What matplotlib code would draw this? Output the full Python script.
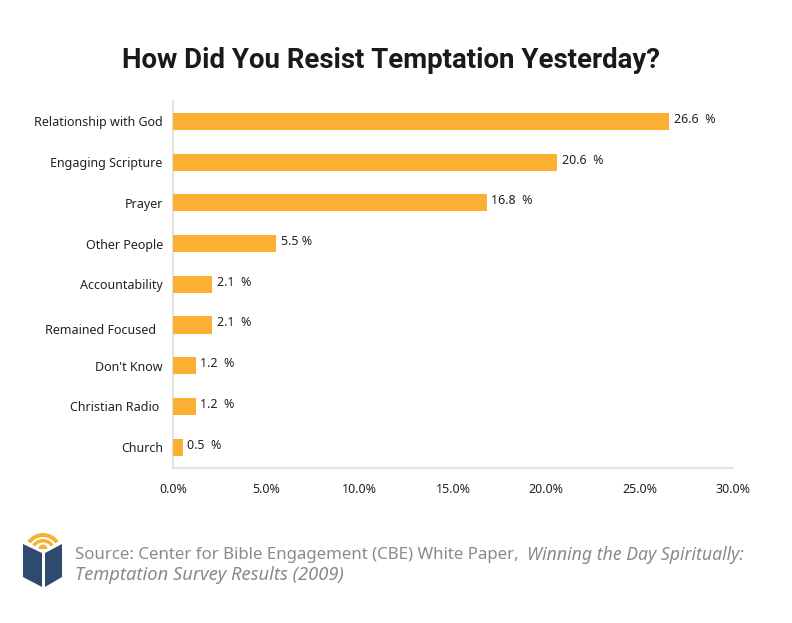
import matplotlib
matplotlib.use("Agg")
import matplotlib.pyplot as plt
from matplotlib.patches import Polygon, Wedge
from matplotlib.transforms import ScaledTranslation

categories = ["Relationship with God", "Engaging Scripture", "Prayer", "Other People",
              "Accountability", "Remained Focused  ", "Don't Know", "Christian Radio ", "Church"]
values = [26.6, 20.6, 16.8, 5.5, 2.1, 2.1, 1.2, 1.2, 0.5]
value_labels = ["26.6  %", "20.6  %", "16.8  %", "5.5 %", "2.1  %", "2.1  %", "1.2  %", "1.2  %", "0.5  %"]
x_ticks = [0, 5, 10, 15, 20, 25, 30]

W, H = 792, 623
BAR = "#fbb034"
NAVY = "#2f4a6f"
GOLD = "#f6b233"

plt.rcParams["font.family"] = ["Noto Sans", "DejaVu Sans"]

fig = plt.figure(figsize=(W / 100, H / 100), dpi=100, facecolor="white")
ax = fig.add_axes([173.2 / W, 1 - 467.5 / H, (732.8 - 173.2) / W, (467.5 - 101) / H])

ypos = list(range(len(categories)))
ax.barh(ypos, values, height=0.42, color=BAR, zorder=3)
ax.set_xlim(0, 30)
ax.set_ylim(len(categories) - 0.5, -0.5)

ax.set_yticks(ypos)
ax.set_yticklabels(categories, fontsize=9, color="#222222")
ax.set_xticks(x_ticks)
ax.set_xticklabels([f"{t:.1f}%" for t in x_ticks], fontsize=9, color="#222222")
ax.tick_params(axis="y", length=0, pad=7.5)
ax.tick_params(axis="x", length=0, pad=11)

# the one label that sits a little lower than its bar
lab5 = ax.get_yticklabels()[5]
lab5.set_transform(lab5.get_transform() + ScaledTranslation(0, -4 / 100, fig.dpi_scale_trans))

for s in ("top", "right"):
    ax.spines[s].set_visible(False)
for s in ("left", "bottom"):
    ax.spines[s].set_color("#e3e3e3")
    ax.spines[s].set_linewidth(1.5)

for y, v, lab in zip(ypos, values, value_labels):
    ax.annotate(lab, (v, y), xytext=(3.5, 1.5), textcoords="offset points",
                fontsize=9, color="#222222", va="center", ha="left")

fig.text(391 / W, 1 - 60 / H, "How Did You Resist Temptation Yesterday?",
         fontsize=19.9, fontweight="bold", family="Roboto", color="#1a1a1a",
         ha="center", va="center")

# overlay in pixel coordinates for the logo
over = fig.add_axes([0, 0, 1, 1], facecolor="none")
over.set_xlim(0, W)
over.set_ylim(H, 0)
over.axis("off")

over.add_patch(Polygon([(23, 544), (42, 553), (42, 587), (23, 577)], color=NAVY, lw=0))
over.add_patch(Polygon([(45, 553), (62, 544), (62, 577), (45, 587)], color=NAVY, lw=0))
for r, w in ((19, 4), (13, 3.5)):
    over.add_patch(Wedge((43, 552), r, 215, 325, width=w, color=GOLD, lw=0))
over.add_patch(Wedge((43, 549), 4.5, 180, 360, color=GOLD, lw=0))

SRC = "#8a8a8a"
over.text(75, 555, "Source: Center for Bible Engagement (CBE) White Paper,",
          fontsize=12.15, color=SRC, va="center", ha="left")
over.text(527, 555, "Winning the Day Spiritually:", fontsize=12.7, color=SRC,
          style="italic", va="center", ha="left")
over.text(75, 575, "Temptation Survey Results (2009)", fontsize=13.2, color=SRC,
          style="italic", va="center", ha="left")

fig.savefig("out.png", dpi=100, facecolor="white")
plt.close(fig)
